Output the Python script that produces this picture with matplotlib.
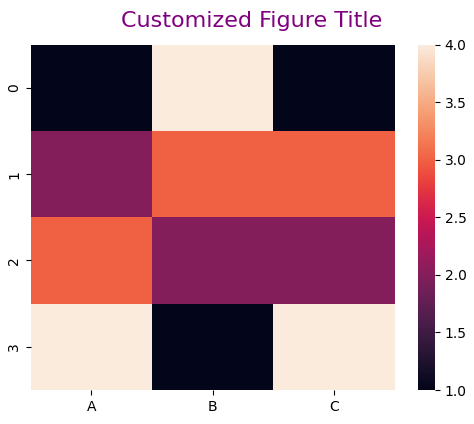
import numpy as np
import pandas as pd
import seaborn as sns
import matplotlib.pyplot as plt

# Heatmap data
columns = ["A", "B", "C"]
rows = [0, 1, 2, 3]
values = [
    [1, 4, 1],
    [2, 3, 3],
    [3, 2, 2],
    [4, 1, 4],
]

df = pd.DataFrame(values, index=rows, columns=columns)

fig = plt.figure(figsize=(4.74, 4.24), dpi=100)
ax = sns.heatmap(df)
fig.suptitle("Customized Figure Title", color="purple", fontsize=16, x=0.53, y=0.975)
plt.subplots_adjust(left=0.065, right=1.025, top=0.895, bottom=0.08)
plt.savefig("out.png")
